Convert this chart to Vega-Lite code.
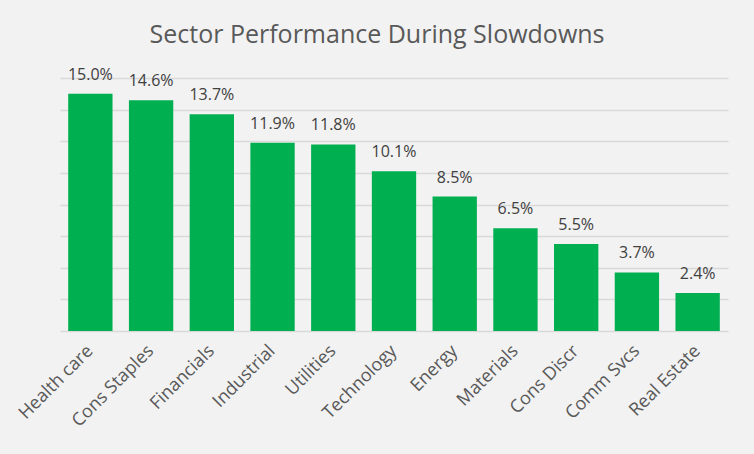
{
  "$schema": "https://vega.github.io/schema/vega-lite/v6.json",
  "autosize": "none",
  "width": 668,
  "height": 253,
  "padding": {"left": 60, "top": 78, "right": 26, "bottom": 123},
  "background": "#F2F2F2",
  "title": {
    "text": "Sector Performance During Slowdowns",
    "font": "Open Sans",
    "fontSize": 25,
    "fontWeight": "normal",
    "color": "#595959",
    "anchor": "middle",
    "dx": -17,
    "offset": 19
  },
  "data": {
    "values": [
      {"sector": "Health care", "perf": 0.150},
      {"sector": "Cons Staples", "perf": 0.146},
      {"sector": "Financials", "perf": 0.137},
      {"sector": "Industrial", "perf": 0.119},
      {"sector": "Utilities", "perf": 0.118},
      {"sector": "Technology", "perf": 0.101},
      {"sector": "Energy", "perf": 0.085},
      {"sector": "Materials", "perf": 0.065},
      {"sector": "Cons Discr", "perf": 0.055},
      {"sector": "Comm Svcs", "perf": 0.037},
      {"sector": "Real Estate", "perf": 0.024}
    ]
  },
  "encoding": {
    "x": {
      "field": "sector",
      "type": "nominal",
      "sort": null,
      "scale": {"paddingInner": 0.27, "paddingOuter": 0.135},
      "axis": {
        "title": null,
        "labelAngle": -45,
        "labelAlign": "right",
        "labelBaseline": "middle",
        "labelFont": "Open Sans",
        "labelFontSize": 18,
        "labelColor": "#595959",
        "labelPadding": 17,
        "ticks": false,
        "domainColor": "#D9D9D9",
        "domainWidth": 1.5
      }
    },
    "y": {
      "field": "perf",
      "type": "quantitative",
      "scale": {"domain": [0, 0.16], "nice": false},
      "axis": {
        "title": null,
        "labels": false,
        "ticks": false,
        "domain": false,
        "values": [0.02, 0.04, 0.06, 0.08, 0.10, 0.12, 0.14, 0.16],
        "gridColor": "#D9D9D9",
        "gridWidth": 1.5
      }
    }
  },
  "layer": [
    {"mark": {"type": "bar", "color": "#00B050"}},
    {
      "mark": {
        "type": "text",
        "dy": -14,
        "baseline": "alphabetic",
        "font": "Open Sans",
        "fontSize": 16,
        "color": "#404040"
      },
      "encoding": {
        "text": {"field": "perf", "type": "quantitative", "format": ".1%"}
      }
    }
  ],
  "config": {"view": {"stroke": null}}
}
